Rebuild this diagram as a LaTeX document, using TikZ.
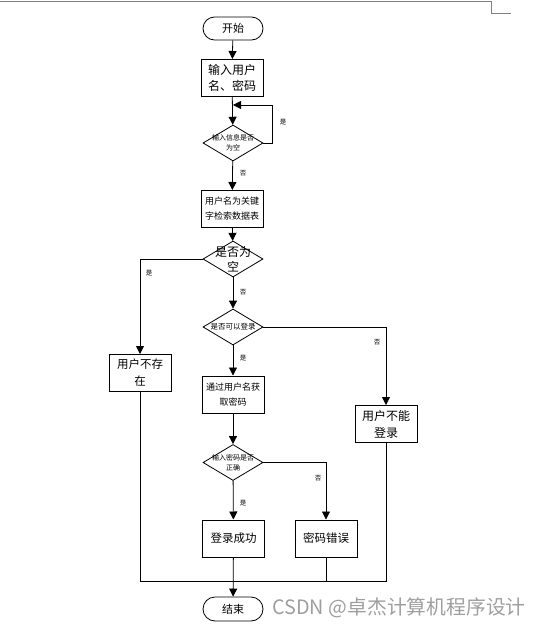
\documentclass[tikz,border=0pt]{standalone}
\usepackage{fontspec}
\setmainfont{Noto Sans CJK SC}
\usetikzlibrary{shapes,arrows.meta,positioning}

\begin{document}
\begin{tikzpicture}[x=1pt, y=-1pt, line width=0.8pt,
    >={Triangle[length=8pt,width=8pt]},
    term/.style={draw, rounded rectangle, minimum width=60pt, minimum height=23pt, inner sep=0pt, font=\fontsize{11}{13}\selectfont},
    proc/.style={draw, line width=1pt, minimum width=62pt, minimum height=37pt, inner sep=0pt, align=center},
    dec/.style={draw, diamond, minimum width=60pt, minimum height=36pt, inner sep=0pt},
    dtxt/.style={align=center, inner sep=0pt, font=\fontsize{7}{10}\selectfont},
    yn/.style={inner sep=0pt, font=\fontsize{6.5}{8}\selectfont}]
  \useasboundingbox (0,0) rectangle (539,627);
  % page edge at the top
  \draw[gray, line width=1pt] (0,1) -- (491,1) -- (491,13) -- (511,13);

  % terminals
  \node[term] (start) at (233,28.5) {开始};
  \node[term, minimum height=24pt] (stop) at (233,609) {结束};

  % boxes
  \node[proc, font=\fontsize{12}{16}\selectfont] (input) at (232,78) {输入用户\\名、密码};
  \node[proc, font=\fontsize{9}{15}\selectfont] (search) at (232,209) {用户名为关键\\字检索数据表};
  \node[proc, font=\fontsize{11.5}{17}\selectfont] (nouser) at (140,373) {用户不存\\在};
  \node[proc, font=\fontsize{9}{15}\selectfont] (getpw) at (233,394.5) {通过用户名获\\取密码};
  \node[proc, font=\fontsize{12}{17}\selectfont] (cant) at (386,424) {用户不能\\登录};
  \node[proc, font=\fontsize{11.5}{14}\selectfont] (ok) at (233.5,538.5) {登录成功};
  \node[proc, font=\fontsize{11.5}{14}\selectfont] (pwerr) at (326,538.5) {密码错误};

  % decisions
  \node[dec, label={[dtxt]center:{输入信息是否\\为空}}] (empty1) at (233,143) {};
  \node[dec, label={[dtxt, font=\fontsize{12}{15}\selectfont]center:{是否为\\空}}] (empty2) at (233,259) {};
  \node[dec, label={[dtxt, font=\fontsize{7.5}{10}\selectfont]center:{是否可以登录}}] (canlog) at (233,327) {};
  \node[dec, label={[dtxt]center:{输入密码是否\\正确}}] (pwok) at (233,462.5) {};

  % free ends
  \coordinate (loop) at (233,105);
  \coordinate (join) at (233,581);

  % connectors
  \draw[->] (start) -- (input);
  \draw[->] (input) -- (empty1);
  \draw[->] (empty1.east) -- ++(9,0) |- (loop);
  \draw[->] (empty1) -- (search);
  \draw[->] (search) -- (empty2);
  \draw[->] (empty2.west) -| (nouser.north);
  \draw[->] (empty2) -- (canlog);
  \draw[->] (canlog.east) -| (cant.north);
  \draw[->] (canlog) -- (getpw);
  \draw[->] (getpw) -- (pwok);
  \draw[->] (pwok.east) -| (pwerr.north);
  \draw[->] (pwok) -- (ok);
  \draw[->] (ok) -- (stop);
  \draw (nouser.south) |- (join);
  \draw (cant.south) |- (join);
  \draw (pwerr.south) |- (join);

  % yes / no marks
  \node[yn] (y1) at (283,122) {是};
  \node[yn] (n1) at (243,173) {否};
  \node[yn] (y2) at (149,273) {是};
  \node[yn] (n2) at (243,292) {否};
  \node[yn] (n3) at (377,342) {否};
  \node[yn] (y3) at (243,358) {是};
  \node[yn] (n4) at (318,478) {否};
  \node[yn] (y4) at (243,503) {是};

  % watermark
  \node[anchor=west, inner sep=0pt, text=black!38, font=\fontsize{19.8}{22}\selectfont] (mark) at (272,608) {CSDN @卓杰计算机程序设计};
\end{tikzpicture}
\end{document}
